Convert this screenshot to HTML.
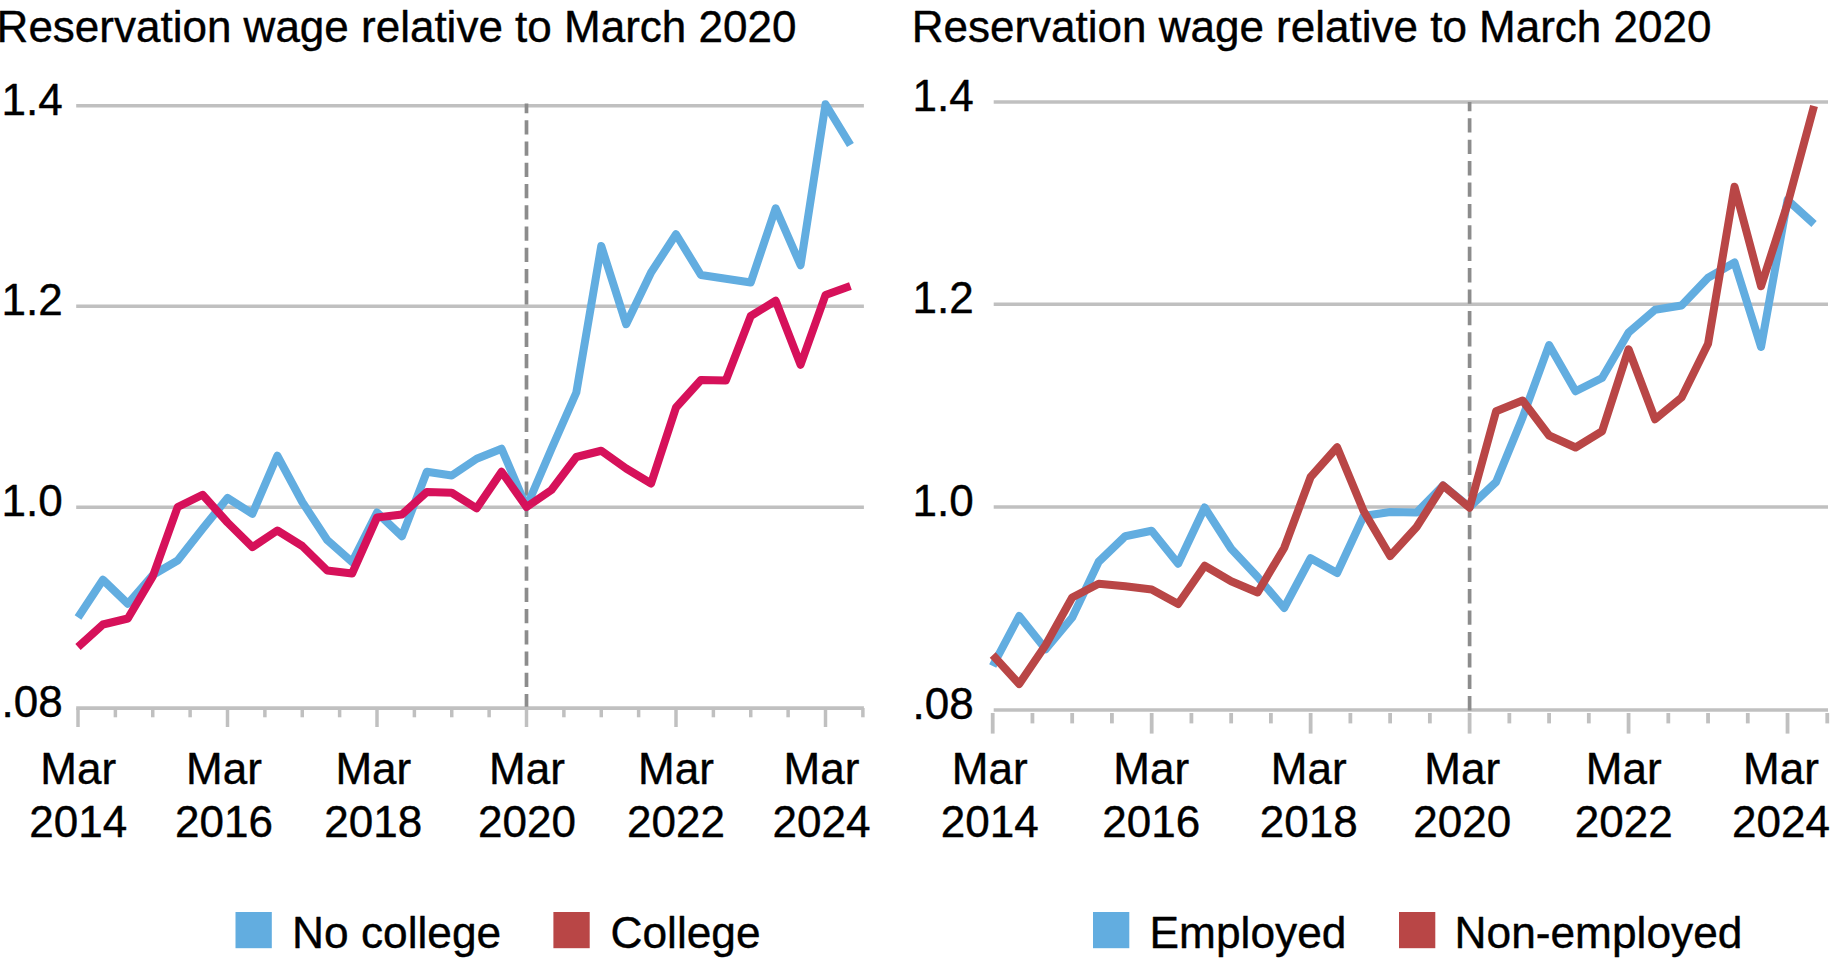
<!DOCTYPE html>
<html lang="en"><head><meta charset="utf-8"><title>Reservation wage relative to March 2020</title>
<style>html,body{margin:0;padding:0;background:#fff;}body{width:1840px;height:965px;overflow:hidden;}svg{display:block;}text{font-family:"Liberation Sans",Arial,Helvetica,sans-serif;fill:#000;stroke:#000;stroke-width:0.4px;stroke-linejoin:round;}</style>
</head><body>
<svg width="1840" height="965" viewBox="0 0 1840 965">
<rect width="1840" height="965" fill="#fff"/>
<text x="-3.4" y="42" font-size="44">Reservation wage relative to March 2020</text>
<line x1="76.2" x2="863.9" y1="105.75" y2="105.75" stroke="#c0c0c0" stroke-width="3.6"/>
<line x1="76.2" x2="863.9" y1="306.25" y2="306.25" stroke="#c0c0c0" stroke-width="3.6"/>
<line x1="76.2" x2="863.9" y1="507.3" y2="507.3" stroke="#c0c0c0" stroke-width="3.6"/>
<text x="1.5" y="114.85" font-size="44">1.4</text>
<text x="1.5" y="315.35" font-size="44">1.2</text>
<text x="1.5" y="516.40" font-size="44">1.0</text>
<text x="1.5" y="717.10" font-size="44">.08</text>
<line x1="76.2" x2="863.9" y1="708" y2="708" stroke="#c0c0c0" stroke-width="3.75"/>
<line x1="526.5" x2="526.5" y1="103.5" y2="706.8" stroke="#8c8c8c" stroke-width="3.7" stroke-dasharray="14.25 7" stroke-dashoffset="4.5"/>
<line x1="78.00" x2="78.00" y1="708" y2="727" stroke="#c0c0c0" stroke-width="3.5"/>
<line x1="115.38" x2="115.38" y1="708" y2="717.3" stroke="#c0c0c0" stroke-width="3.5"/>
<line x1="152.75" x2="152.75" y1="708" y2="717.3" stroke="#c0c0c0" stroke-width="3.5"/>
<line x1="190.12" x2="190.12" y1="708" y2="717.3" stroke="#c0c0c0" stroke-width="3.5"/>
<line x1="227.50" x2="227.50" y1="708" y2="727" stroke="#c0c0c0" stroke-width="3.5"/>
<line x1="264.88" x2="264.88" y1="708" y2="717.3" stroke="#c0c0c0" stroke-width="3.5"/>
<line x1="302.25" x2="302.25" y1="708" y2="717.3" stroke="#c0c0c0" stroke-width="3.5"/>
<line x1="339.62" x2="339.62" y1="708" y2="717.3" stroke="#c0c0c0" stroke-width="3.5"/>
<line x1="377.00" x2="377.00" y1="708" y2="727" stroke="#c0c0c0" stroke-width="3.5"/>
<line x1="414.38" x2="414.38" y1="708" y2="717.3" stroke="#c0c0c0" stroke-width="3.5"/>
<line x1="451.75" x2="451.75" y1="708" y2="717.3" stroke="#c0c0c0" stroke-width="3.5"/>
<line x1="489.12" x2="489.12" y1="708" y2="717.3" stroke="#c0c0c0" stroke-width="3.5"/>
<line x1="526.50" x2="526.50" y1="708" y2="727" stroke="#c0c0c0" stroke-width="3.5"/>
<line x1="563.88" x2="563.88" y1="708" y2="717.3" stroke="#c0c0c0" stroke-width="3.5"/>
<line x1="601.25" x2="601.25" y1="708" y2="717.3" stroke="#c0c0c0" stroke-width="3.5"/>
<line x1="638.62" x2="638.62" y1="708" y2="717.3" stroke="#c0c0c0" stroke-width="3.5"/>
<line x1="676.00" x2="676.00" y1="708" y2="727" stroke="#c0c0c0" stroke-width="3.5"/>
<line x1="713.38" x2="713.38" y1="708" y2="717.3" stroke="#c0c0c0" stroke-width="3.5"/>
<line x1="750.75" x2="750.75" y1="708" y2="717.3" stroke="#c0c0c0" stroke-width="3.5"/>
<line x1="788.12" x2="788.12" y1="708" y2="717.3" stroke="#c0c0c0" stroke-width="3.5"/>
<line x1="825.50" x2="825.50" y1="708" y2="727" stroke="#c0c0c0" stroke-width="3.5"/>
<line x1="862.88" x2="862.88" y1="708" y2="717.3" stroke="#c0c0c0" stroke-width="3.5"/>
<path d="M78.00,617.50 L102.92,579.75 L127.83,603.75 L152.75,575.00 L177.67,560.50 L202.58,528.75 L227.50,498.00 L252.42,513.75 L277.33,455.75 L302.25,502.00 L327.17,540.00 L352.08,562.00 L377.00,512.50 L401.92,536.25 L426.83,471.75 L451.75,475.50 L476.67,458.75 L501.58,448.75 L526.50,507.00 L551.42,449.00 L576.33,392.50 L601.25,246.00 L626.17,324.25 L651.08,272.50 L676.00,234.25 L700.92,275.00 L725.83,278.75 L750.75,282.50 L775.67,208.25 L800.58,265.25 L825.50,104.25 L850.42,145.00" fill="none" stroke="#62ade0" stroke-width="8" stroke-linejoin="round"/>
<path d="M78.00,647.00 L102.92,624.50 L127.83,618.50 L152.75,576.50 L177.67,507.00 L202.58,494.75 L227.50,522.50 L252.42,547.10 L277.33,530.50 L302.25,546.00 L327.17,570.50 L352.08,573.50 L377.00,517.50 L401.92,514.50 L426.83,492.00 L451.75,492.75 L476.67,508.30 L501.58,471.75 L526.50,507.00 L551.42,490.00 L576.33,457.00 L601.25,450.75 L626.17,468.50 L651.08,483.50 L676.00,407.50 L700.92,380.00 L725.83,380.50 L750.75,316.00 L775.67,300.75 L800.58,364.75 L825.50,295.00 L850.42,286.00" fill="none" stroke="#d6115a" stroke-width="8" stroke-linejoin="round"/>
<text x="78.2" y="783.75" font-size="44" text-anchor="middle">Mar</text>
<text x="78.2" y="837" font-size="44" text-anchor="middle">2014</text>
<text x="224" y="783.75" font-size="44" text-anchor="middle">Mar</text>
<text x="224" y="837" font-size="44" text-anchor="middle">2016</text>
<text x="373.3" y="783.75" font-size="44" text-anchor="middle">Mar</text>
<text x="373.3" y="837" font-size="44" text-anchor="middle">2018</text>
<text x="527" y="783.75" font-size="44" text-anchor="middle">Mar</text>
<text x="527" y="837" font-size="44" text-anchor="middle">2020</text>
<text x="676" y="783.75" font-size="44" text-anchor="middle">Mar</text>
<text x="676" y="837" font-size="44" text-anchor="middle">2022</text>
<text x="821.5" y="783.75" font-size="44" text-anchor="middle">Mar</text>
<text x="821.5" y="837" font-size="44" text-anchor="middle">2024</text>
<text x="911.7" y="42" font-size="44">Reservation wage relative to March 2020</text>
<line x1="993.7" x2="1828" y1="102" y2="102" stroke="#c0c0c0" stroke-width="3.6"/>
<line x1="993.7" x2="1828" y1="304.25" y2="304.25" stroke="#c0c0c0" stroke-width="3.6"/>
<line x1="993.7" x2="1828" y1="507" y2="507" stroke="#c0c0c0" stroke-width="3.6"/>
<text x="912.5" y="110.60" font-size="44">1.4</text>
<text x="912.5" y="312.85" font-size="44">1.2</text>
<text x="912.5" y="515.60" font-size="44">1.0</text>
<text x="912.5" y="718.60" font-size="44">.08</text>
<line x1="993.7" x2="1828" y1="710" y2="710" stroke="#c0c0c0" stroke-width="3.6"/>
<line x1="1469.6" x2="1469.6" y1="102" y2="712.3" stroke="#8c8c8c" stroke-width="3.7" stroke-dasharray="14.3 7.1" stroke-dashoffset="5.1"/>
<line x1="992.70" x2="992.70" y1="713" y2="733.6" stroke="#c0c0c0" stroke-width="3.8"/>
<line x1="1032.44" x2="1032.44" y1="713" y2="723.4" stroke="#c0c0c0" stroke-width="3.8"/>
<line x1="1072.18" x2="1072.18" y1="713" y2="723.4" stroke="#c0c0c0" stroke-width="3.8"/>
<line x1="1111.92" x2="1111.92" y1="713" y2="723.4" stroke="#c0c0c0" stroke-width="3.8"/>
<line x1="1151.67" x2="1151.67" y1="713" y2="733.6" stroke="#c0c0c0" stroke-width="3.8"/>
<line x1="1191.41" x2="1191.41" y1="713" y2="723.4" stroke="#c0c0c0" stroke-width="3.8"/>
<line x1="1231.15" x2="1231.15" y1="713" y2="723.4" stroke="#c0c0c0" stroke-width="3.8"/>
<line x1="1270.89" x2="1270.89" y1="713" y2="723.4" stroke="#c0c0c0" stroke-width="3.8"/>
<line x1="1310.63" x2="1310.63" y1="713" y2="733.6" stroke="#c0c0c0" stroke-width="3.8"/>
<line x1="1350.38" x2="1350.38" y1="713" y2="723.4" stroke="#c0c0c0" stroke-width="3.8"/>
<line x1="1390.12" x2="1390.12" y1="713" y2="723.4" stroke="#c0c0c0" stroke-width="3.8"/>
<line x1="1429.86" x2="1429.86" y1="713" y2="723.4" stroke="#c0c0c0" stroke-width="3.8"/>
<line x1="1469.60" x2="1469.60" y1="713" y2="733.6" stroke="#c0c0c0" stroke-width="3.8"/>
<line x1="1509.34" x2="1509.34" y1="713" y2="723.4" stroke="#c0c0c0" stroke-width="3.8"/>
<line x1="1549.08" x2="1549.08" y1="713" y2="723.4" stroke="#c0c0c0" stroke-width="3.8"/>
<line x1="1588.82" x2="1588.82" y1="713" y2="723.4" stroke="#c0c0c0" stroke-width="3.8"/>
<line x1="1628.57" x2="1628.57" y1="713" y2="733.6" stroke="#c0c0c0" stroke-width="3.8"/>
<line x1="1668.31" x2="1668.31" y1="713" y2="723.4" stroke="#c0c0c0" stroke-width="3.8"/>
<line x1="1708.05" x2="1708.05" y1="713" y2="723.4" stroke="#c0c0c0" stroke-width="3.8"/>
<line x1="1747.79" x2="1747.79" y1="713" y2="723.4" stroke="#c0c0c0" stroke-width="3.8"/>
<line x1="1787.53" x2="1787.53" y1="713" y2="733.6" stroke="#c0c0c0" stroke-width="3.8"/>
<line x1="1827.27" x2="1827.27" y1="713" y2="723.4" stroke="#c0c0c0" stroke-width="3.8"/>
<path d="M992.70,666.00 L1019.19,616.00 L1045.69,649.25 L1072.18,617.50 L1098.68,561.75 L1125.17,536.25 L1151.67,530.75 L1178.16,563.75 L1204.66,507.50 L1231.15,548.75 L1257.64,577.00 L1284.14,608.00 L1310.63,558.25 L1337.13,573.00 L1363.62,516.00 L1390.12,512.00 L1416.61,512.50 L1443.11,485.50 L1469.60,507.00 L1496.09,482.00 L1522.59,417.50 L1549.08,345.00 L1575.58,391.25 L1602.07,378.00 L1628.57,332.50 L1655.06,309.75 L1681.56,305.50 L1708.05,277.75 L1734.54,262.50 L1761.04,347.00 L1787.53,200.00 L1814.03,224.00" fill="none" stroke="#62ade0" stroke-width="8" stroke-linejoin="round"/>
<path d="M992.70,655.00 L1019.19,684.00 L1045.69,645.00 L1072.18,597.50 L1098.68,583.75 L1125.17,586.25 L1151.67,589.50 L1178.16,604.00 L1204.66,565.75 L1231.15,581.25 L1257.64,592.50 L1284.14,548.00 L1310.63,477.00 L1337.13,447.25 L1363.62,511.00 L1390.12,556.00 L1416.61,527.00 L1443.11,485.50 L1469.60,507.75 L1496.09,411.25 L1522.59,400.50 L1549.08,435.50 L1575.58,447.50 L1602.07,431.25 L1628.57,349.25 L1655.06,419.25 L1681.56,397.50 L1708.05,343.75 L1734.54,186.75 L1761.04,286.25 L1787.53,204.00 L1814.03,106.00" fill="none" stroke="#b94646" stroke-width="8" stroke-linejoin="round"/>
<text x="989.75" y="783.75" font-size="44" text-anchor="middle">Mar</text>
<text x="989.75" y="837" font-size="44" text-anchor="middle">2014</text>
<text x="1151.25" y="783.75" font-size="44" text-anchor="middle">Mar</text>
<text x="1151.25" y="837" font-size="44" text-anchor="middle">2016</text>
<text x="1308.75" y="783.75" font-size="44" text-anchor="middle">Mar</text>
<text x="1308.75" y="837" font-size="44" text-anchor="middle">2018</text>
<text x="1462.25" y="783.75" font-size="44" text-anchor="middle">Mar</text>
<text x="1462.25" y="837" font-size="44" text-anchor="middle">2020</text>
<text x="1623.75" y="783.75" font-size="44" text-anchor="middle">Mar</text>
<text x="1623.75" y="837" font-size="44" text-anchor="middle">2022</text>
<text x="1781" y="783.75" font-size="44" text-anchor="middle">Mar</text>
<text x="1781" y="837" font-size="44" text-anchor="middle">2024</text>
<rect x="235.5" y="912" width="36.3" height="36.2" fill="#62ade0"/>
<text x="292.1" y="947.9" font-size="44.25">No college</text>
<rect x="553.4" y="912" width="36.3" height="36.2" fill="#b94646"/>
<text x="610.5" y="947.9" font-size="44.25">College</text>
<rect x="1093" y="912" width="36.3" height="36.2" fill="#62ade0"/>
<text x="1149.6" y="947.9" font-size="44.25">Employed</text>
<rect x="1399" y="912" width="36.3" height="36.2" fill="#b94646"/>
<text x="1454.6" y="947.9" font-size="44.25">Non-employed</text>
</svg></body></html>
